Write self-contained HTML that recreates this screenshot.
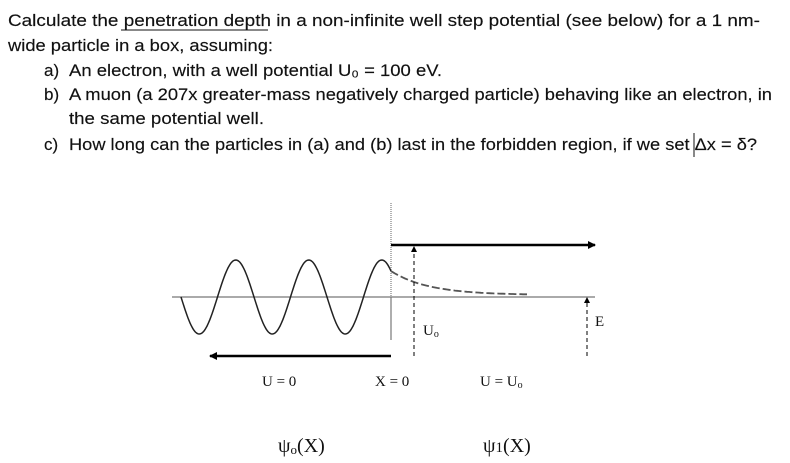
<!DOCTYPE html>
<html><head><meta charset="utf-8"><style>
html,body{margin:0;padding:0;background:#fff;}
svg{display:block;}
.t{font-family:"Liberation Sans",sans-serif;font-size:17px;fill:#111;stroke:#111;stroke-width:0.15;}
.s{font-family:"Liberation Serif",serif;font-size:15px;fill:#111;}
</style></head><body>
<svg width="790" height="463" viewBox="0 0 790 463">
<defs>
<marker id="ah" markerWidth="8" markerHeight="8" refX="7" refY="4" orient="auto" markerUnits="userSpaceOnUse"><path d="M0,0 L8,4 L0,8 z" fill="#000"/></marker>
<marker id="ahs" markerWidth="6" markerHeight="6" refX="5" refY="3" orient="auto" markerUnits="userSpaceOnUse"><path d="M0,0 L6,3 L0,6 z" fill="#000"/></marker>
</defs>
<g>
<text class="t" x="8" y="26" textLength="752" lengthAdjust="spacingAndGlyphs">Calculate the penetration depth in a non-infinite well step potential (see below) for a 1 nm-</text>
<line x1="121" y1="30" x2="268" y2="30" stroke="#111" stroke-width="1"/>
<text class="t" x="8" y="51" textLength="265" lengthAdjust="spacingAndGlyphs">wide particle in a box, assuming:</text>
<text class="t" x="44" y="76">a)</text>
<text class="t" x="69" y="76" textLength="373" lengthAdjust="spacingAndGlyphs">An electron, with a well potential U₀ = 100 eV.</text>
<text class="t" x="44" y="100">b)</text>
<text class="t" x="69" y="100" textLength="703" lengthAdjust="spacingAndGlyphs">A muon (a 207x greater-mass negatively charged particle) behaving like an electron, in</text>
<text class="t" x="69" y="124" textLength="195" lengthAdjust="spacingAndGlyphs">the same potential well.</text>
<text class="t" x="44" y="150">c)</text>
<text class="t" x="69" y="150" textLength="688" lengthAdjust="spacingAndGlyphs">How long can the particles in (a) and (b) last in the forbidden region, if we set Δx = δ?</text>
<line x1="694" y1="133" x2="694" y2="157" stroke="#111" stroke-width="1"/>
</g>
<g>
<line x1="391" y1="203" x2="391" y2="297" stroke="#666" stroke-width="1" stroke-dasharray="1,1"/>
<line x1="391" y1="297" x2="391" y2="340" stroke="#777" stroke-width="1.2"/>
<line x1="391" y1="245" x2="595" y2="245" stroke="#000" stroke-width="2.5" marker-end="url(#ah)"/>
<line x1="391" y1="356" x2="210" y2="356" stroke="#000" stroke-width="2.5" marker-end="url(#ah)"/>
<line x1="172" y1="297" x2="595" y2="297" stroke="#777" stroke-width="1.2"/>
<path id="wave" fill="none" stroke="#222" stroke-width="1.5"/>
<path id="decay" fill="none" stroke="#555" stroke-width="1.8" stroke-dasharray="8,3"/>
<line x1="414" y1="356" x2="414" y2="247" stroke="#000" stroke-width="1" stroke-dasharray="4,3" marker-end="url(#ahs)"/>
<line x1="587" y1="356" x2="587" y2="298" stroke="#000" stroke-width="1" stroke-dasharray="4,3" marker-end="url(#ahs)"/>
<text class="s" x="423" y="335">U<tspan font-size="10" dy="2">o</tspan></text>
<text class="s" x="595" y="326">E</text>
<text class="s" x="262" y="386">U = 0</text>
<text class="s" x="375" y="386">X = 0</text>
<text class="s" x="480" y="386">U = U<tspan font-size="10" dy="2">o</tspan></text>
<text class="s" x="278" y="452" style="font-size:20px">ψ<tspan style="font-size:13px" dy="2">o</tspan><tspan dy="-2">(X)</tspan></text>
<text class="s" x="483" y="452" style="font-size:20px">ψ<tspan style="font-size:15px">1</tspan>(X)</text>
</g>
</svg>
<script>
var d='';
for(var x=181;x<=391;x+=1){var y=297+37*Math.sin(2*Math.PI*(x-181)/73);d+=(x==181?'M':'L')+x+','+y.toFixed(1)+' ';}
document.getElementById('wave').setAttribute('d',d);
var y0=297+37*Math.sin(2*Math.PI*(391-181)/73);
var e='';
for(var x2=391;x2<=527;x2+=2){var yy=295-(295-y0)*Math.exp(-(x2-391)/38);e+=(x2==391?'M':'L')+x2+','+yy.toFixed(1)+' ';}
document.getElementById('decay').setAttribute('d',e);
</script>
</body></html>
